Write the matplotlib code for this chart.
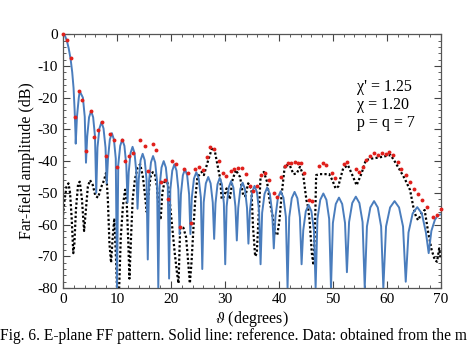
import numpy as np
import matplotlib
matplotlib.use('Agg')
import matplotlib.pyplot as plt
from matplotlib.ticker import MultipleLocator

# reference pattern (solid blue)
ref_deg = [0, 0.35, 0.7, 1.05, 1.4, 1.7, 1.95, 2.15, 2.3, 2.35,
           2.58, 2.92, 3.1, 3.68, 4.02, 4.25,
           4.48, 4.82, 5.2, 5.58, 5.92, 6.15,
           6.38, 6.74, 7.12, 7.5, 7.87, 8.1,
           8.33, 8.67, 9.05, 9.43, 9.77, 10.0,
           10.23, 10.59, 10.97, 11.37, 11.72, 11.95,
           12.17, 12.5, 12.88, 13.25, 13.58, 13.8,
           14.03, 14.37, 14.75, 15.13, 15.47, 15.7,
           15.93, 16.29, 16.68, 17.07, 17.42, 17.65,
           17.89, 18.25, 18.65, 19.05, 19.41, 19.65,
           19.88, 20.24, 20.63, 21.02, 21.37, 21.6,
           21.84, 22.2, 22.6, 23.0, 23.36, 23.6,
           23.86, 24.26, 24.7, 25.14, 25.54, 25.8,
           26.06, 26.46, 26.9, 27.34, 27.74, 28.0,
           28.25, 28.62, 29.03, 29.44, 29.8, 30.05,
           30.31, 30.7, 31.13, 31.56, 31.94, 32.2,
           32.46, 32.85, 33.28, 33.71, 34.09, 34.35,
           34.62, 35.03, 35.48, 35.93, 36.33, 36.6,
           36.89, 37.34, 37.83, 38.32, 38.76, 39.05,
           39.36, 39.82, 40.33, 40.84, 41.29, 41.6,
           41.91, 42.38, 42.9, 43.42, 43.89, 44.2,
           44.51, 44.98, 45.5, 46.02, 46.49, 46.8,
           47.14, 47.66, 48.23, 48.8, 49.31, 49.65,
           50.0, 50.54, 51.13, 51.72, 52.25, 52.6,
           53.0, 53.59, 54.25, 54.91, 55.5, 55.9,
           56.31, 56.94, 57.63, 58.32, 58.94, 59.35,
           59.85, 60.6, 61.43, 62.26, 63.0, 63.5,
           64.01, 64.78, 65.63, 66.48, 67.24, 67.75,
           68.25, 68.9, 69.5, 70.0]
ref_db = [0, -0.5, -2, -4.5, -7.8, -12, -17, -24, -31, -34.5,
          -26, -20, -18, -20, -26, -40.5,
          -32.2, -26.2, -24.2, -26.2, -32.2, -50,
          -35.7, -29.7, -27.7, -29.7, -35.7, -47,
          -39.2, -33.2, -31.2, -33.2, -39.2, -80,
          -41.2, -35.2, -33.2, -35.2, -41.2, -53,
          -43.5, -37.5, -35.5, -37.5, -43.5, -55,
          -45.7, -39.7, -37.7, -39.7, -45.7, -71,
          -46.4, -40.4, -38.4, -40.4, -46.4, -80,
          -48, -42, -40, -42, -48, -77,
          -49, -43, -41, -43, -49, -63,
          -50.5, -44.5, -42.5, -44.5, -50.5, -63,
          -51.5, -45.5, -43.5, -45.5, -51.5, -74,
          -53, -47, -45, -47, -53, -64.5,
          -53.3, -47.3, -45.3, -47.3, -53.3, -72.5,
          -54.3, -48.3, -46.3, -48.3, -54.3, -65,
          -54.8, -48.8, -46.8, -48.8, -54.8, -66,
          -55.8, -49.8, -47.8, -49.8, -55.8, -72.5,
          -56.3, -50.3, -48.3, -50.3, -56.3, -67.5,
          -57.5, -51.5, -49.5, -51.5, -57.5, -80,
          -57.7, -51.7, -49.7, -51.7, -57.7, -72.5,
          -61.8, -55.8, -53.8, -55.8, -61.8, -80,
          -58.2, -52.2, -50.2, -52.2, -58.2, -80,
          -59.5, -53.5, -51.5, -53.5, -59.5, -75,
          -59.2, -53.2, -51.2, -53.2, -59.2, -80,
          -60.6, -54.6, -52.6, -54.6, -60.6, -80,
          -60.6, -54.6, -52.6, -54.6, -60.6, -78,
          -62.5, -56.5, -54.5, -56.5, -62.5, -69,
          -62, -58.5, -57, -56.8]

# measured data (black dotted)
meas_deg = [0.0, 0.3, 0.65, 1.0, 1.3, 1.6, 1.9, 2.1, 2.4, 2.8, 3.1, 3.5, 3.9,
            4.2, 4.6, 5.0, 5.5, 6.0, 6.5, 7.0, 7.6, 8.0, 8.3, 8.6, 8.9, 9.2,
            9.5, 9.8, 10.0, 10.4, 10.7, 11.1, 11.5, 11.8, 12.1, 12.3, 12.6,
            12.9, 13.3, 13.8, 14.3, 14.8, 15.2, 15.5, 15.8, 16.2, 16.6, 17.0,
            17.4, 17.8, 18.1, 18.4, 18.8, 19.3, 19.6, 19.9, 20.3, 20.7, 21.1,
            21.4, 21.7, 22.3, 22.8, 23.1, 23.5, 23.8, 24.2, 24.5, 24.9, 25.7,
            26.1, 26.9, 27.5, 28.0, 28.5, 29.1, 29.4, 29.9, 30.3, 30.9, 31.4,
            32.0, 32.8, 33.4, 33.8, 34.3, 34.9, 35.2, 35.6, 35.9, 36.2, 36.6,
            37.2, 37.8, 38.3, 38.8, 39.3, 39.7, 40.1, 40.5, 41.1, 42.0, 42.7,
            43.3, 43.9, 44.5, 45.1, 45.4, 45.7, 46.1, 46.4, 46.7, 46.9, 47.6,
            48.5, 49.3, 49.9, 50.5, 51.0, 51.3, 51.9, 52.8, 53.6, 54.4, 55.3,
            56.1, 57.2, 58.7, 59.9, 60.7, 61.5, 62.4, 63.3, 64.3, 64.9, 65.4,
            65.8, 66.4, 67.0, 67.7, 68.3, 68.9, 69.3, 69.7, 70.0]
meas_db = [-57, -52, -48, -47, -50, -58, -69, -66, -55, -47, -46.5, -52, -62,
           -56, -48, -46, -47.5, -51, -51.5, -48.5, -46, -43.5, -52, -66, -72,
           -64, -58, -70, -80, -80, -64, -54, -49, -53, -66, -77, -64,
           -52, -46, -42, -41, -45, -51, -56, -51, -45, -43.5, -44,
           -48, -57, -58, -50, -46.5, -46.5, -49, -55, -62, -69, -75,
           -78.5, -61, -61, -64, -70, -78.5, -72, -60, -52, -45, -43.4,
           -44.4, -39.7, -36.5, -35.7, -40.2, -45.4, -52, -51, -48.6, -52, -46,
           -42.8, -45, -51, -51, -47, -48.6, -60.7, -70, -69, -58.6, -45,
           -43.4, -46.5, -52.8, -57, -62.8, -63.3, -58.6, -50.7, -41.3, -41.3, -44.1,
           -43.9, -41.8, -44.4, -52.3, -54.4, -59.1, -69, -72.8, -60, -44.4, -44.1,
           -44.1, -44.1, -46, -48.6, -48, -46, -42.3, -41.3, -44.4, -47.6, -43.9,
           -39.7, -39.2, -38.8, -38.4, -38.1, -40.2, -42.8, -45.5, -49.1, -54.4, -57.5,
           -58.6, -56.5, -55.4, -62.8, -68, -71.2, -71.7, -67.5, -71]

# red dots
pts_deg = [0, 0.68, 1.45, 2.2, 3.0, 3.58, 4.3, 5.1, 5.72, 6.5, 7.2, 7.96,
           8.7, 9.35, 10.08, 10.85, 11.55, 12.25, 12.98, 14.3, 15.2, 15.8,
           16.6, 17.3, 18.1, 18.9, 19.5, 20.2, 20.9, 21.7, 22.4, 23.1, 23.7,
           24.5, 25.2, 25.95, 26.65, 27.3, 28.05, 28.85, 29.6, 30.2, 31.05,
           31.7, 32.5, 33.2, 33.9, 34.6, 35.2, 35.9, 36.6, 37.4, 38.2, 39.0,
           39.6, 40.3, 41.1, 41.7, 42.3, 43.0, 43.6, 44.1, 44.7, 45.6, 46.1,
           47.4, 48.1, 48.8, 49.8, 50.4, 52.0, 52.7, 54.2, 54.8, 55.5, 56.1,
           56.9, 57.6, 58.4, 59.1, 59.8, 60.4, 61.2, 62.0, 62.7, 63.5, 64.3,
           65.0, 65.7, 66.6, 67.5, 68.5, 69.2, 70.0]
pts_db = [0, -1.9, -7.5, -26, -18, -20.8, -36.8, -24.2, -32.4, -30.1, -27.8, -38.5,
          -31.5, -33.5, -42, -33.3, -40.1, -38.5, -37.3, -33.3, -35.2, -43,
          -34.6, -36.5, -46.7, -45.8, -51.8, -39.9, -40.8, -60.7, -42.4, -43.9, -59.4,
          -42.6, -41.8, -42.8, -38.7, -35.6, -36.3, -39.9, -43.9, -44.7, -43,
          -42.6, -42.3, -42.1, -44.2, -47.9, -49.4, -47.9, -44.4, -43.7, -46, -50,
          -51.4, -44.9, -41.5, -40.6, -40.5, -40.4, -40.7, -40.5, -43.7, -52.3, -52.7,
          -41.5, -40.5, -41.3, -43.9, -45.3, -40.8, -40.4, -42.6, -43.5, -41.9, -39.5,
          -38.4, -37.6, -38.1, -37.6, -37.7, -37.2, -38.1, -40.4, -42.6, -44.3, -46.5,
          -48.8, -50.4, -52.3, -54.6, -57.5, -57, -55]

params = ["\u03c7' = 1.25", "\u03c7 = 1.20", "p = q = 7"]
caption = ('Fig. 6. E-plane FF pattern. Solid line: reference. '
           'Data: obtained from the m')

plt.rcParams['font.family'] = 'Liberation Serif'
plt.rcParams['mathtext.fontset'] = 'stix'
plt.rcParams['axes.unicode_minus'] = False

fig = plt.figure(figsize=(4.74, 3.45), dpi=100)
ax = fig.add_axes([0.133, 0.165, 0.797, 0.736])

ax.plot(meas_deg, meas_db, color='black', lw=1.6, linestyle=(0, (1, 1)),
        dash_capstyle='butt', zorder=2)
ax.plot(ref_deg, ref_db, color='#4a7dbd', lw=1.4, zorder=3)
ax.plot(pts_deg, pts_db, 'o', color='#e0201c', ms=2.8, mew=0, zorder=4,
        clip_on=False)

ax.set_xlim(0, 70)
ax.set_ylim(-80, 0)
ax.xaxis.set_major_locator(MultipleLocator(10))
ax.xaxis.set_minor_locator(MultipleLocator(2))
ax.yaxis.set_major_locator(MultipleLocator(10))
ax.yaxis.set_minor_locator(MultipleLocator(2))
ax.tick_params(which='both', direction='in', top=True, right=True,
               labelsize=11, color='#444444')
ax.tick_params(which='major', length=5)
ax.tick_params(which='minor', length=2.5)
for s in ax.spines.values():
    s.set_color('#555555')
    s.set_linewidth(0.9)

ax.set_xlabel(r'$\vartheta$ (degrees)', fontsize=11.5, labelpad=2)
ax.set_ylabel('Far-field amplitude (dB)', fontsize=11.5, labelpad=2)

for i, t in enumerate(params):
    ax.text(0.778, 0.79 - i * 0.069, t, transform=ax.transAxes, fontsize=11.5,
            ha='left', va='center')

fig.text(0.0, 0.014, caption, fontsize=11.2, ha='left', va='baseline')

fig.savefig('out.png', dpi=100)
